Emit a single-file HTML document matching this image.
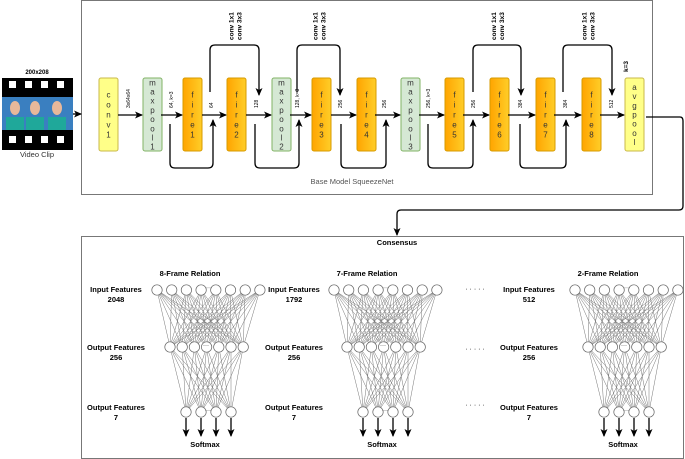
<!DOCTYPE html>
<html><head><meta charset="utf-8"><style>
body{margin:0;background:#fff;width:685px;height:459px;overflow:hidden;font-family:"Liberation Sans",sans-serif}
svg{display:block}
</style></head><body>
<svg id="s" width="685" height="459" xmlns="http://www.w3.org/2000/svg" font-family="Liberation Sans, sans-serif">
<defs>
<linearGradient id="og" x1="0" y1="0" x2="1" y2="0"><stop offset="0" stop-color="#ffa500"/><stop offset="1" stop-color="#ffcd28"/></linearGradient>
<marker id="ar" markerWidth="8" markerHeight="8" refX="7" refY="4" orient="auto" markerUnits="userSpaceOnUse"><path d="M0,0.5 L8,4 L0,7.5 L2,4 z" fill="#000"/></marker>
</defs>
<rect x="81.5" y="0.5" width="571" height="194" fill="#fff" stroke="#777"/>
<rect x="81.5" y="236.5" width="602" height="222" fill="#fff" stroke="#777"/>
<g id="g"></g>
</svg>
<script>
var g=document.getElementById('g'),h='';
function L(d,a,w){h+='<path d="'+d+'" fill="none" stroke="#000" stroke-width="'+(w||1.3)+'"'+(a?' marker-end="url(#ar)"':'')+'/>';}
function T(x,y,t,s,extra){h+='<text x="'+x+'" y="'+y+'" font-size="'+(s||7)+'" text-anchor="middle" '+(extra||'')+'>'+t+'</text>';}
h+='<rect x="2" y="78" width="71" height="72" fill="#000"/>';
h+='<rect x="2" y="97" width="71" height="33" fill="#3a7fc0"/>';
[12,28,44,60].forEach(function(x){h+='<rect x="'+(x-3)+'" y="81" width="7" height="7" fill="#fff"/><rect x="'+(x-3)+'" y="136" width="7" height="7" fill="#fff"/>';});
[15,35,57].forEach(function(x){h+='<ellipse cx="'+x+'" cy="108" rx="5" ry="7" fill="#e8b89a"/><rect x="'+(x-9)+'" y="117" width="18" height="13" fill="#1fa89a"/>';});
T(37,74,'200x208',6,'font-weight="bold"');T(37,157,'Video Clip',7.5,'fill="#333"');
L('M73,114 L81,114',1);
var B=[['conv1',99,'y'],['maxpool1',143,'g'],['fire1',183,'o'],['fire2',227,'o'],['maxpool2',272,'g'],['fire3',312,'o'],['fire4',357,'o'],['maxpool3',401,'g'],['fire5',445,'o'],['fire6',490,'o'],['fire7',536,'o'],['fire8',582,'o'],['avgpool',625,'y']];
B.forEach(function(b){var x=b[1],f,s;
 if(b[2]=='y'){f='#ffff88';s='#c9b84a'}else if(b[2]=='g'){f='#d5e8d4';s='#82b366'}else{f='url(#og)';s='#d79b00'}
 h+='<rect x="'+x+'" y="78" width="19" height="73" rx="2" fill="'+f+'" stroke="'+s+'"/>';
 var t=b[0].split(''),n=t.length,sp=n>5?9.2:10,y0=115-(n-1)*sp/2+2.5;
 for(var i=0;i<n;i++)T(x+9.5,y0+i*sp,t[i],8,'fill="#333"');
});
var seg=[[118,143],[161,183],[202,227],[246,272],[290,312],[331,357],[375,401],[419,445],[463,490],[508,536],[554,582],[600,625]];
seg.forEach(function(s){L('M'+s[0]+','+115+' L'+(s[1]-1)+',115',1)});
var lab=[[128,'3x64x64'],[171,'64, k=3'],[211,'64'],[256,'128'],[297,'128, k=3'],[340,'256'],[384,'256'],[428,'256, k=3'],[473,'256'],[520,'384'],[565,'384'],[611,'512']];
lab.forEach(function(l){h+='<text transform="translate('+(l[0]+2)+',108) rotate(-90)" font-size="5" fill="#000">'+l[1]+'</text>'});
[[210,259],[297,340],[473,521],[563,612]].forEach(function(p){
 L('M'+p[0]+',92 L'+p[0]+',50 Q'+p[0]+',45 '+(p[0]+5)+',45 L'+(p[1]-5)+',45 Q'+p[1]+',45 '+p[1]+',50 L'+p[1]+',95',1);
 var m=(p[0]+p[1])/2;
 h+='<text transform="translate('+(m-1)+',40) rotate(-90)" font-size="6.5" font-weight="bold">conv 1x1</text>';
 h+='<text transform="translate('+(m+7)+',40) rotate(-90)" font-size="6.5" font-weight="bold">conv 3x3</text>';
});
[[170,213],[255,299],[341,386],[428,473],[520,566]].forEach(function(p){
 L('M'+p[0]+',124 L'+p[0]+',163 Q'+p[0]+',168 '+(p[0]+5)+',168 L'+(p[1]-5)+',168 Q'+p[1]+',168 '+p[1]+',163 L'+p[1]+',120',1);
});
h+='<text transform="translate(628,72) rotate(-90)" font-size="6.5" font-weight="bold">k=3</text>';
T(352,184,'Base Model SqueezeNet',7.5,'fill="#555"');
L('M646,117 L680,117 Q683,117 683,121 L683,206 Q683,210 679,210 L401,210 Q397,210 397,214 L397,235',1);
T(397,245,'Consensus',7.5,'font-weight="bold"');
function net(ox,title){
 var inp=[],mid=[],out=[],i;
 for(i=0;i<8;i++)inp.push(157+ox+i*14.7);
 for(i=0;i<7;i++)mid.push(170+ox+i*12.2);
 for(i=0;i<4;i++)out.push(186+ox+i*15);
 var s='';
 inp.forEach(function(a){mid.forEach(function(b){s+='M'+a+',290 L'+b+',347 ';})});
 mid.forEach(function(a){out.forEach(function(b){s+='M'+a+',347 L'+b+',412 ';})});
 h+='<path d="'+s+'" stroke="#777" stroke-width="0.5" fill="none"/>';
 inp.forEach(function(x){h+='<circle cx="'+x+'" cy="290" r="5.2" fill="#fff" stroke="#666" stroke-width="0.7"/>'});
 mid.forEach(function(x){h+='<circle cx="'+x+'" cy="347" r="5.2" fill="#fff" stroke="#666" stroke-width="0.7"/>'});
 out.forEach(function(x){h+='<circle cx="'+x+'" cy="412" r="5.2" fill="#fff" stroke="#666" stroke-width="0.7"/>';L('M'+x+',418 L'+x+',436',1)});
 T(ox+209,289.5,'···',6);T(ox+206,347,'···',6);T(ox+208,412,'···',6);
 T(ox+205,447,'Softmax',7.5,'font-weight="bold"');
 T(ox+190,276,title,7.5,'font-weight="bold"');
}
net(0,'8-Frame Relation');net(177,'7-Frame Relation');net(418,'2-Frame Relation');
function lbl(x,y,a,b){T(x,y,a,7.5,'font-weight="bold"');T(x,y+10,b,7.5,'font-weight="bold"');}
lbl(116,292,'Input Features','2048');lbl(116,350,'Output Features','256');lbl(116,410,'Output Features','7');
lbl(294,292,'Input Features','1792');lbl(294,350,'Output Features','256');lbl(294,410,'Output Features','7');
lbl(529,292,'Input Features','512');lbl(529,350,'Output Features','256');lbl(529,410,'Output Features','7');
[291,351,407].forEach(function(y){T(475,y,'· · · · ·',7)});
g.innerHTML=h;
</script>
</body></html>
